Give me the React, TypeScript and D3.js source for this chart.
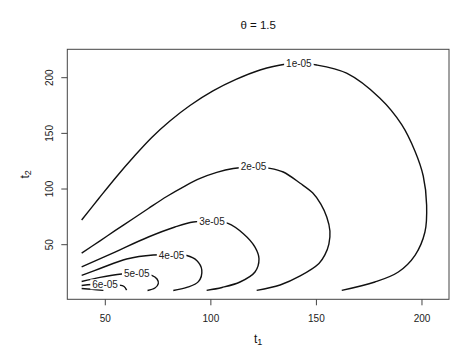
import { useRef, useEffect } from 'react'
import * as d3 from 'd3'

// contour levels and their label anchors (t1, t2)
const levels = ['1e-05', '2e-05', '3e-05', '4e-05', '5e-05', '6e-05', '']
const labelT1 = [141.7, 120.2, 100.5, 81.4, 64.9, 49.9]
const labelT2 = [212.3, 119.8, 70.7, 40.5, 24.0, 14.4]

// traced contour paths
const c1T1 = [38.8, 47.0, 55.4, 63.6, 72.0, 80.6, 90.1, 101.0, 111.9, 123.3, 135.1, 141.7, 150.1, 164.3, 180.1, 190.4, 196.7, 200.6, 202.2, 201.4, 196.7, 188.8, 177.7, 162.0]
const c1T2 = [72.2, 91.7, 111.3, 129.2, 146.3, 161.1, 175.0, 188.1, 198.4, 206.9, 212.1, 212.6, 211.4, 204.0, 181.5, 157.8, 133.9, 111.7, 85.7, 61.4, 40.5, 25.5, 16.5, 9.0]
const c2T1 = [38.8, 47.5, 54.6, 63.3, 70.4, 79.1, 87.7, 94.9, 102.8, 110.6, 120.0, 128.0, 134.3, 142.3, 148.3, 152.1, 154.9, 156.4, 155.9, 154.0, 151.2, 142.3, 132.8, 121.7]
const c2T2 = [42.5, 53.5, 62.6, 73.5, 82.5, 93.3, 102.7, 109.5, 114.9, 118.4, 120.0, 118.6, 115.3, 105.2, 96.4, 86.5, 74.9, 62.3, 50.6, 40.8, 33.1, 21.9, 13.8, 9.0]
const c3T1 = [38.8, 54.6, 70.4, 83.0, 91.7, 100.5, 108.1, 115.4, 120.9, 122.8, 120.9, 113.8, 105.3, 98.0]
const c3T2 = [30.0, 43.4, 56.9, 65.9, 70.4, 71.0, 69.2, 59.9, 47.9, 37.4, 25.5, 16.5, 11.6, 9.0]
const c4T1 = [38.8, 47.5, 60.1, 72.7, 81.4, 88.6, 93.3, 95.7, 94.1, 88.6, 82.2]
const c4T2 = [22.5, 28.6, 37.2, 40.8, 40.8, 40.3, 35.8, 27.3, 16.8, 11.6, 8.9]
const c5T1 = [38.8, 47.5, 57.8, 65.0, 72.0, 74.5, 75.1, 73.5, 70.0]
const c5T2 = [16.9, 20.7, 23.7, 24.1, 22.5, 19.2, 15.1, 11.1, 8.9]
const c6T1 = [38.8, 43.7, 49.9, 56.2, 58.9, 60.1]
const c6T2 = [13.4, 14.3, 14.4, 13.8, 12.5, 9.2]
const c7T1 = [38.8, 43.7, 49.1]
const c7T2 = [10.7, 10.0, 9.0]

const xTicks = [50, 100, 150, 200]
const yTicks = [50, 100, 150, 200]

const font = 'Liberation Sans, Arial, Helvetica, sans-serif'

const App = () => {
  const ref = useRef<SVGSVGElement>(null)

  useEffect(() => {
    if (!ref.current) return
    const svg = d3.select(ref.current)
    svg.selectAll('*').remove()

    const left = 67.3, right = 449, top = 49.3, bottom = 299.3
    const x = d3.scaleLinear().domain([32.0, 212.8]).range([left, right])
    const y = d3.scaleLinear().domain([0.96, 225.5]).range([bottom, top])

    const paths = [
      [c1T1, c1T2], [c2T1, c2T2], [c3T1, c3T2], [c4T1, c4T2],
      [c5T1, c5T2], [c6T1, c6T2], [c7T1, c7T2],
    ]
    const line = d3.line<[number, number]>()
      .x(d => x(d[0]))
      .y(d => y(d[1]))
      .curve(d3.curveCatmullRom.alpha(0.5))

    const g = svg.append('g')
    paths.forEach(([a, b]) => {
      const pts = a.map((v, i) => [v, b[i]] as [number, number])
      g.append('path')
        .attr('d', line(pts) as string)
        .attr('fill', 'none')
        .attr('stroke', '#111')
        .attr('stroke-width', 1.4)
    })

    // inline labels with a gap in the line
    levels.forEach((lab, i) => {
      if (!lab) return
      const cx = x(labelT1[i]), cy = y(labelT2[i])
      const t = g.append('text')
        .attr('x', cx)
        .attr('y', cy)
        .attr('text-anchor', 'middle')
        .attr('dominant-baseline', 'central')
        .attr('font-family', font)
        .attr('font-size', 10)
        .attr('fill', '#222')
        .text(lab)
      const w = (t.node() as SVGTextElement).getComputedTextLength()
      g.insert('rect', () => t.node())
        .attr('x', cx - w / 2 - 2)
        .attr('y', cy - 5)
        .attr('width', w + 4)
        .attr('height', 10)
        .attr('fill', '#fff')
    })

    // box
    svg.append('rect')
      .attr('x', left).attr('y', top)
      .attr('width', right - left).attr('height', bottom - top)
      .attr('fill', 'none').attr('stroke', '#444').attr('stroke-width', 1)

    // x axis
    xTicks.forEach(v => {
      svg.append('line')
        .attr('x1', x(v)).attr('x2', x(v))
        .attr('y1', bottom).attr('y2', bottom + 6)
        .attr('stroke', '#444')
      svg.append('text')
        .attr('x', x(v)).attr('y', 318.5)
        .attr('text-anchor', 'middle')
        .attr('dominant-baseline', 'central')
        .attr('font-family', font).attr('font-size', 10)
        .attr('fill', '#222')
        .text(v)
    })

    // y axis
    yTicks.forEach(v => {
      svg.append('line')
        .attr('x1', left - 6).attr('x2', left)
        .attr('y1', y(v)).attr('y2', y(v))
        .attr('stroke', '#444')
      svg.append('text')
        .attr('transform', `translate(49,${y(v)}) rotate(-90)`)
        .attr('text-anchor', 'middle')
        .attr('dominant-baseline', 'central')
        .attr('font-family', font).attr('font-size', 10)
        .attr('fill', '#222')
        .text(v)
    })

    // axis titles
    const xl = svg.append('text')
      .attr('x', (left + right) / 2).attr('y', 339)
      .attr('text-anchor', 'middle')
      .attr('dominant-baseline', 'central')
      .attr('font-family', font).attr('font-size', 12)
      .attr('fill', '#111')
    xl.append('tspan').text('t')
    xl.append('tspan').attr('font-size', 9).attr('dy', 3).text('1')

    const yl = svg.append('text')
      .attr('transform', `translate(25,${(top + bottom) / 2}) rotate(-90)`)
      .attr('text-anchor', 'middle')
      .attr('dominant-baseline', 'central')
      .attr('font-family', font).attr('font-size', 12)
      .attr('fill', '#111')
    yl.append('tspan').text('t')
    yl.append('tspan').attr('font-size', 9).attr('dy', 3).text('2')

    svg.append('text')
      .attr('x', (left + right) / 2).attr('y', 25)
      .attr('text-anchor', 'middle')
      .attr('dominant-baseline', 'central')
      .attr('font-family', font).attr('font-size', 11.5)
      .attr('fill', '#111')
      .text('\u03b8 = 1.5')
  }, [])

  return (
    <svg
      ref={ref}
      width={474}
      height={361}
      style={{ position: 'absolute', left: 0, top: 0, background: '#fff' }}
    />
  )
}

export default App
